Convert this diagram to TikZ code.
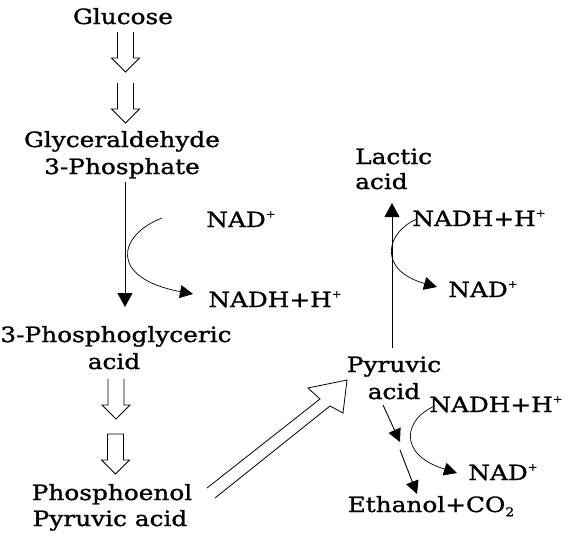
\documentclass[tikz,border=0pt]{standalone}
\usepackage{fontspec}
\setmainfont[FakeStretch=1.18,FakeBold=1.2]{DejaVu Serif}
\usetikzlibrary{arrows.meta}
\newcommand\supplus{\raisebox{0.45em}{\fontsize{10}{10}\selectfont+}}
\newcommand\subtwo{\raisebox{-0.2em}{\fontsize{12}{12}\selectfont 2}}
\begin{document}
\begin{tikzpicture}[x=1pt,y=-1pt,
  lbl/.style={anchor=base,inner sep=0pt,font=\fontsize{21}{25}\selectfont},
  mainline/.style={line width=0.9pt},
  thinline/.style={line width=0.7pt},
  solidtip/.style={-{Triangle[length=14pt,width=15pt]}},
  curvetip/.style={-{Triangle[length=13pt,width=13pt]}},
  hollowline/.style={line width=0.8pt,line join=miter},
  hollowdown/.pic={\draw[hollowline] (-8,0) -- (-8,26) -- (-14,26) -- (0,40) -- (14,26) -- (8,26) -- (8,0);},
  hollowdownclosed/.pic={\draw[hollowline] (-8,0) -- (-8,26) -- (-14,26) -- (0,40) -- (14,26) -- (8,26) -- (8,0) -- cycle;}]
\useasboundingbox (0,0) rectangle (575,538);
% labels
\node[lbl] (glu) at (123,24) {Glucose};
\node[lbl] (gly1) at (122,147) {Glyceraldehyde};
\node[lbl] (gly2) at (122,174) {3-Phosphate};
\node[lbl] (nadA) at (241,227) {NAD\supplus};
\node[lbl] (nadhA) at (275,307) {NADH+H\supplus};
\node[lbl] (pga1) at (116,342) {3-Phosphoglyceric};
\node[lbl] (pga2) at (114,369) {acid};
\node[lbl] (pep1) at (112,500) {Phosphoenol};
\node[lbl] (pep2) at (110,526) {Pyruvic acid};
\node[lbl,anchor=base west] (lac1) at (355,164) {Lactic};
\node[lbl,anchor=base west] (lac2) at (355,189) {acid};
\node[lbl] (nadhB) at (479,226) {NADH+H\supplus};
\node[lbl] (nadB) at (483,297) {NAD\supplus};
\node[lbl] (pyr1) at (394,372) {Pyruvic};
\node[lbl] (pyr2) at (394,399) {acid};
\node[lbl] (nadhC) at (496,412) {NADH+H\supplus};
\node[lbl] (nadC) at (503,480) {NAD\supplus};
\node[lbl] (eth) at (431,512) {Ethanol+CO\subtwo};
% hollow arrows
\pic at (125.5,32) {hollowdown};
\pic at (125.5,83) {hollowdown};
\pic at (116,379) {hollowdown};
\pic at (115.5,434) {hollowdownclosed};
% coordinates
\coordinate (g3s) at (125,182);
\coordinate (g3e) at (125,307);
\coordinate (c1s) at (162,218);
\coordinate (c1e) at (193,294);
\coordinate (lacs) at (392,348);
\coordinate (lace) at (392,203);
\coordinate (c2s) at (417,219);
\coordinate (c2e) at (437,287);
\coordinate (e1s) at (383,405);
\coordinate (e1e) at (400,442);
\coordinate (e2s) at (400,450);
\coordinate (e2e) at (417,494);
\coordinate (c3s) at (435,406);
\coordinate (c3e) at (457,473);
% connectors
\draw[mainline,solidtip] (g3s) -- (g3e);
\draw[thinline,curvetip] (c1s) .. controls (118,235) and (108,278) .. (c1e);
\draw[mainline,solidtip] (lacs) -- (lace);
\draw[thinline,curvetip] (c2s) .. controls (386,232) and (377,270) .. (c2e);
\draw[mainline,curvetip] (e1s) -- (e1e);
\draw[mainline,curvetip] (e2s) -- (e2e);
\draw[thinline,curvetip] (c3s) .. controls (405,418) and (396,454) .. (c3e);
% big hollow arrow
\draw[hollowline] (207,488) -- (320,399) -- (308,388) -- (347,380) -- (343,413) -- (330,406) -- (215,498);
\end{tikzpicture}
\end{document}
